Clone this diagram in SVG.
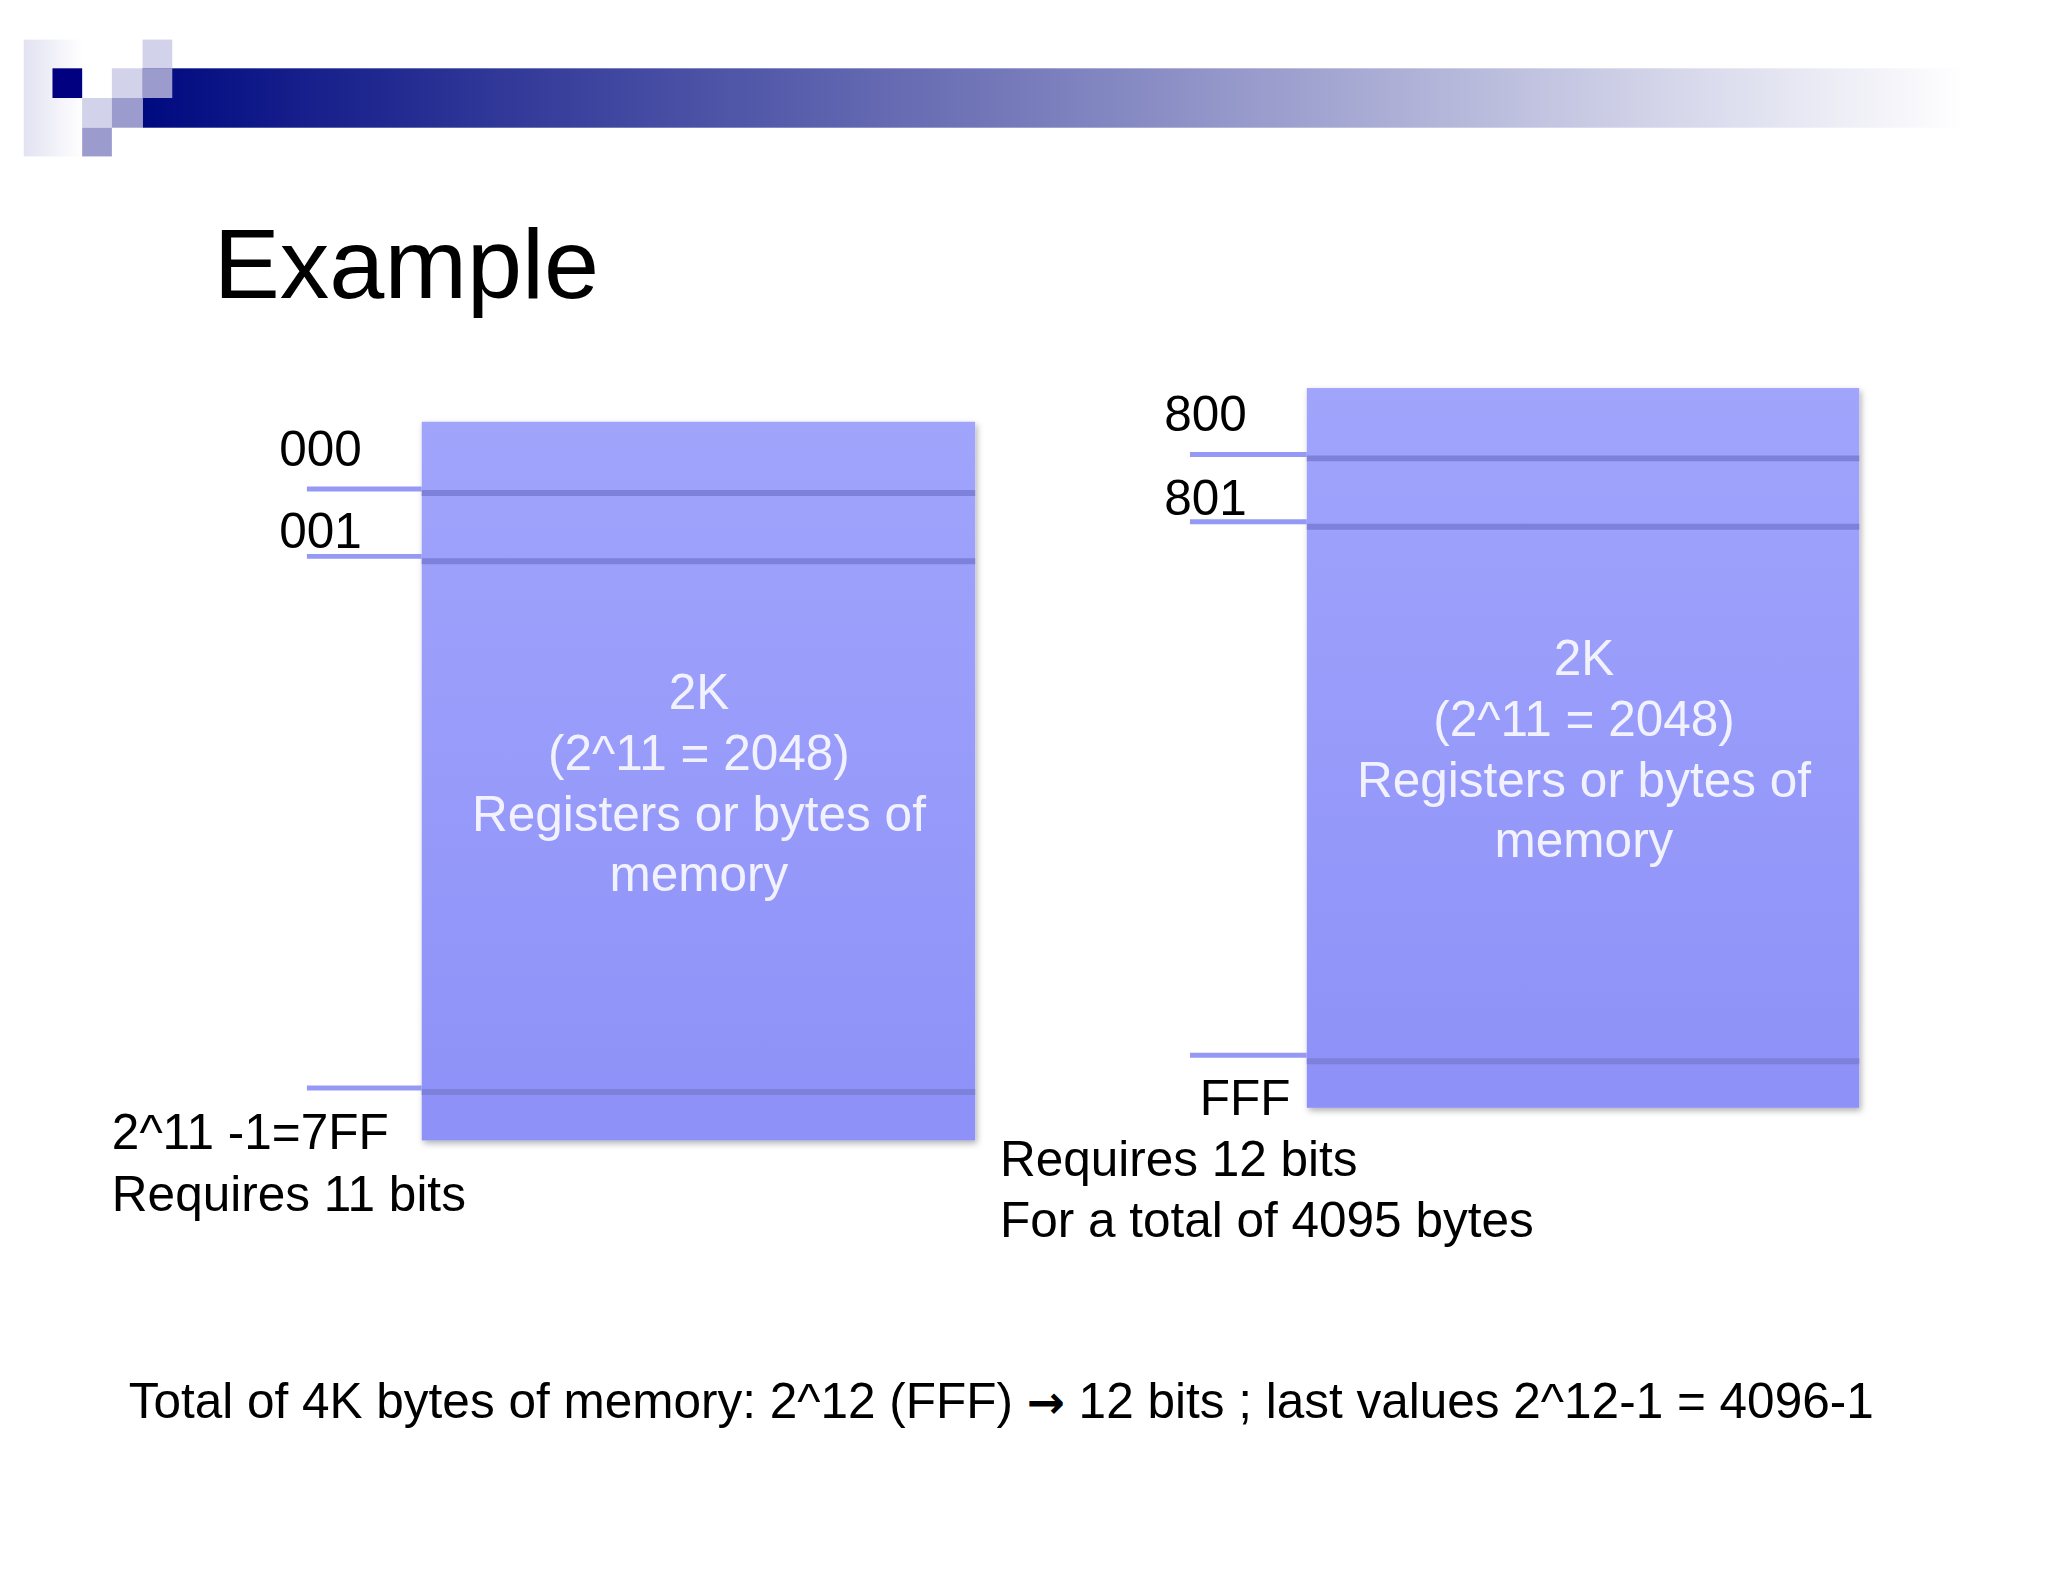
<svg xmlns="http://www.w3.org/2000/svg" width="2048" height="1582" viewBox="0 0 2048 1582">
<defs>
<linearGradient id="bar" x1="0" x2="1" y1="0" y2="0"><stop offset="0" stop-color="#000a80"/><stop offset="0.5" stop-color="#7b7fbd"/><stop offset="1" stop-color="#ffffff"/></linearGradient>
<linearGradient id="col" x1="0" x2="1"><stop offset="0" stop-color="#e2e2f2"/><stop offset="1" stop-color="#ffffff"/></linearGradient>
<linearGradient id="box" x1="0" x2="0" y1="0" y2="1"><stop offset="0" stop-color="#a1a4fb"/><stop offset="1" stop-color="#8d91f8"/></linearGradient>
<filter id="sh" x="-5%" y="-5%" width="110%" height="110%"><feDropShadow dx="2" dy="3" stdDeviation="3" flood-color="#000" flood-opacity="0.3"/></filter>
</defs>
<style>
text{font-family:"Liberation Sans",Arial,sans-serif}
.lab{font-size:50px;fill:#000}
.in{font-size:50px;fill:#f2f2ff;text-anchor:middle}
.tick{stroke:#9598f5;stroke-width:5}
.inner{stroke:#7e81d9;stroke-width:6}
.lt{fill:#d2d2ea}.md{fill:#9b9bcd}
</style>
<rect width="2048" height="1582" fill="#fff"/>
<g transform="scale(0.99)">
<g id="header">
<rect x="144" y="69" width="1840" height="60" fill="url(#bar)"/>
<rect x="24" y="40" width="60" height="118" fill="url(#col)"/>
<rect x="53" y="69" width="30" height="30" fill="#000080"/>
<rect class="lt" x="113" y="69" width="31" height="30"/>
<rect class="lt" x="144" y="40" width="30" height="29"/>
<rect class="md" x="144" y="69" width="30" height="30"/>
<rect class="lt" x="83" y="99" width="30" height="30"/>
<rect class="md" x="83" y="129" width="30" height="29"/>
<rect class="md" x="113" y="99" width="31" height="30"/>
</g>
<text x="216" y="301" font-size="100" fill="#000">Example</text>
<g id="box1">
<rect x="426" y="426" width="559" height="726" fill="url(#box)" filter="url(#sh)"/>
<line class="inner" x1="426" y1="498" x2="985" y2="498"/>
<line class="inner" x1="426" y1="567" x2="985" y2="567"/>
<line class="inner" x1="426" y1="1103" x2="985" y2="1103"/>
<text class="in" x="706" y="716">2K</text>
<text class="in" x="706" y="778">(2^11 = 2048)</text>
<text class="in" x="706" y="839">Registers or bytes of</text>
<text class="in" x="706" y="900">memory</text>
</g>
<g id="box2">
<rect x="1320" y="392" width="558" height="727" fill="url(#box)" filter="url(#sh)"/>
<line class="inner" x1="1320" y1="463" x2="1878" y2="463"/>
<line class="inner" x1="1320" y1="532" x2="1878" y2="532"/>
<line class="inner" x1="1320" y1="1072" x2="1878" y2="1072"/>
<text class="in" x="1600" y="682">2K</text>
<text class="in" x="1600" y="743">(2^11 = 2048)</text>
<text class="in" x="1600" y="805">Registers or bytes of</text>
<text class="in" x="1600" y="866">memory</text>
</g>
<g id="connectors">
<line class="tick" x1="310" y1="494" x2="426" y2="494"/>
<line class="tick" x1="310" y1="562" x2="426" y2="562"/>
<line class="tick" x1="310" y1="1099" x2="426" y2="1099"/>
<line class="tick" x1="1202" y1="459" x2="1320" y2="459"/>
<line class="tick" x1="1202" y1="527" x2="1320" y2="527"/>
<line class="tick" x1="1202" y1="1066" x2="1320" y2="1066"/>
</g>
<g id="labels">
<text class="lab" x="282" y="471">000</text>
<text class="lab" x="282" y="554">001</text>
<text class="lab" x="113" y="1161">2^11 -1=7FF</text>
<text class="lab" x="113" y="1223">Requires 11 bits</text>
<text class="lab" x="1176" y="435">800</text>
<text class="lab" x="1176" y="520">801</text>
<text class="lab" x="1212" y="1126">FFF</text>
<text class="lab" x="1010" y="1188">Requires 12 bits</text>
<text class="lab" x="1010" y="1250">For a total of 4095 bytes</text>
<text class="lab" x="130" y="1432">Total of 4K bytes of memory: 2^12 (FFF) <tspan font-family="DejaVu Sans" font-weight="bold" font-size="46">→</tspan> 12 bits ; last values 2^12-1 = 4096-1</text>
</g>
</g>
</svg>
